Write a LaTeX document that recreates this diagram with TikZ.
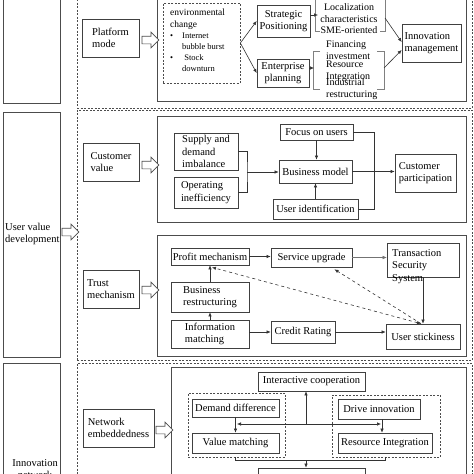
\documentclass[tikz,border=0pt]{standalone}
\usepackage{fontspec}
\setmainfont{Liberation Serif}
\usetikzlibrary{arrows.meta,shapes.arrows}
\tikzset{
 box/.style={draw=black!75, line width=0.7pt, inner sep=0pt, fill=white, font=\fontsize{10.5}{12.5}\selectfont, align=center},
 grp/.style={draw=black!70, line width=0.7pt, dash pattern=on 2pt off 1.5pt, inner sep=0pt},
 frame/.style={draw=black!70, line width=0.8pt, inner sep=0pt},
 txt/.style={inner sep=0pt, font=\fontsize{10.5}{12.5}\selectfont, align=left},
 ln/.style={draw=black!80, line width=0.6pt},
 con/.style={ln, ->},
 brk/.style={draw=black!50, line width=0.6pt},
 harrow/.style={single arrow, draw=black!70, line width=0.7pt, fill=white, minimum height=17pt, minimum width=15pt, single arrow head extend=4pt, inner sep=3.5pt},
 >={Latex[length=4pt,width=3.5pt]}
}
\newcommand\rect[6][]{%
 \pgfmathsetmacro\rw{#4-#2}\pgfmathsetmacro\rh{#5-#3}%
 \pgfmathsetmacro\rx{(#2+#4)/2}\pgfmathsetmacro\ry{(#3+#5)/2}%
 \node[#1,minimum width=\rw pt,minimum height=\rh pt] (#6) at (\rx,\ry)}
\begin{document}
\begin{tikzpicture}[x=1pt,y=-1pt]
\useasboundingbox (0,0) rectangle (474,474);
\clip (0,0) rectangle (474,474);
\fill[white] (0,0) rectangle (474,474);
% left column
\rect[frame]{3}{-20}{60}{103}{L1} {};
\rect[frame]{3}{112}{60}{357}{L2} {};
\rect[frame]{3}{363}{60}{500}{L3} {};
\node[txt, anchor=west] (L2t) at (5,234) {User value\\development};
\node[txt, anchor=north, align=center] (L3t) at (35,459) {Innovation\\network};
% dashed sections
\rect[grp]{77}{-10}{472}{108}{D1} {};
\rect[grp]{77}{110}{472}{360}{D2} {};
\rect[grp]{77}{363}{472}{500}{D3} {};
% big boxes
\rect[frame]{157}{-10}{466}{101}{B1} {};
\rect[frame]{157}{116}{466}{222}{B2} {};
\rect[frame]{157}{235}{466}{356}{B3} {};
\rect[frame]{171}{367}{466}{500}{B4} {};
% hollow arrows
\node[harrow] (h0) at (68.5,232) {};
\node[harrow] (h1) at (148.5,40) {};
\node[harrow] (h2) at (148.5,165) {};
\node[harrow] (h3) at (148.5,290) {};
\node[harrow] (h4) at (162.5,430) {};
% ---------- section 1
\rect[box,align=left]{82}{19}{139}{57}{platform} {Platform\\mode};
\rect[grp]{163}{3}{240}{83}{env} {};
\node[txt, anchor=north west, font=\fontsize{9.5}{12}\selectfont] (envt) at (170,9) {environmental\\change};
\node[txt, anchor=north west, font=\fontsize{8.5}{11}\selectfont] (envb) at (170,33) {\makebox[12pt][l]{\textbullet}Internet\\\makebox[12pt]{}bubble burst\\\makebox[12pt][l]{\textbullet}\ Stock\\\makebox[12pt]{}downturn};
\rect[box]{257}{5}{310}{37}{strat} {Strategic\\Positioning};
\rect[box]{257}{59}{309}{87}{ent} {Enterprise\\planning};
\draw[brk] (320,31) -- (315,31) -- (315,-5);
\draw[brk] (380,31) -- (385,31) -- (385,-5);
\node[txt, align=center, font=\fontsize{10}{11.5}\selectfont] (loc) at (349,19) {Localization\\characteristics\\SME-oriented};
\coordinate (locL) at (318,15);
\coordinate (locR) at (385,18);
\draw[brk] (320,51) -- (313,51) -- (313,89) -- (320,89);
\draw[brk] (377,51) -- (384,51) -- (384,89) -- (377,89);
\node[txt, anchor=west, font=\fontsize{10}{12}\selectfont] (fin1) at (326,50) {Financing\\investment};
\node[txt, anchor=west, font=\fontsize{10}{12}\selectfont] (fin2) at (326,71) {Resource\\Integration};
\node[txt, anchor=west, font=\fontsize{10}{12}\selectfont] (fin3) at (326,89) {Industrial\\restructuring};
\coordinate (finL) at (314,68);
\coordinate (finR) at (384,68);
\rect[box,align=left]{402}{24}{461}{62}{innov} {Innovation\\management};
\draw[con] (env.east) -- (strat.west);
\draw[con] (env.east) -- (ent.west);
\draw[con] (strat.east |- locL) -- (locL);
\draw[con] (ent.east |- finL) -- (finL);
\draw[con] (locR) -- ([yshift=1pt]innov.west);
\draw[con] (finR) -- ([yshift=-7pt]innov.west);
% ---------- section 2
\rect[box,align=left]{83}{143}{139}{181}{cv} {Customer\\value};
\rect[box,align=left]{174}{133}{238}{170}{supply} {Supply and\\demand\\imbalance};
\rect[box,align=left]{174}{177}{238}{208}{oper} {Operating\\inefficiency};
\rect[box]{280}{124}{353}{140}{focus} {Focus on users};
\rect[box]{279}{160}{352}{183}{bm} {Business model};
\rect[box]{273}{199}{358}{219}{uid} {User identification};
\rect[box,align=left]{395}{154}{456}{192}{cp} {Customer\\participation};
\coordinate (sj) at (247,172);
\draw[ln] (supply.east) -| (sj) |- (oper.east);
\draw[con] (sj) -- (bm.west |- sj);
\draw[con] (focus.south) -- (focus.south |- bm.north);
\draw[con] (uid.north) -- (uid.north |- bm.south);
\draw[ln] (focus.east) -- ++(21,0) |- (uid.east);
\draw[con] (bm.east) -- (cp.west |- bm.east);
% ---------- trust
\rect[box,align=left]{83}{270}{139}{308}{trust} {Trust\\mechanism};
\rect[box]{171}{248}{249}{265}{profit} {Profit mechanism};
\rect[box,align=left]{171}{282}{249}{312}{brs} {Business\\restructuring};
\rect[box,align=left]{171}{320}{249}{348}{info} {Information\\matching};
\rect[box]{271}{248}{352}{267}{svc} {Service upgrade};
\rect[box]{387}{243}{459}{277}{tss} {};
\node[txt, anchor=north west] (tsst) at (392,249) {Transaction\\Security\\System};
\rect[box]{271}{321}{335}{343}{cr} {Credit Rating};
\rect[box]{386}{324}{460}{349}{stick} {User stickiness};
\draw[con] (brs.north) -- (profit.south);
\draw[con] (info.north) -- (brs.south);
\draw[con] (profit.east) -- (svc.west |- profit.east);
\draw[con, draw=black!55, line width=0.4pt] (svc.east) -- (tss.west |- svc.east);
\draw[con] (info.east |- cr.west) -- (cr.west);
\draw[con] (cr.east) -- (stick.west |- cr.east);
\draw[con] (tss.south) -- (tss.south |- stick.north);
\draw[ln, dashed, <->] ([xshift=-2pt]stick.north) -- ([xshift=2pt,yshift=-2pt]profit.south);
\draw[ln, dashed, ->] ([xshift=-2pt]stick.north) -- ([xshift=23pt,yshift=-2pt]svc.south);
% ---------- section 3
\rect[box,align=left]{83}{409}{154}{447}{net} {Network\\embeddedness};
\rect[box]{258}{372}{365}{391}{ic} {Interactive cooperation};
\rect[grp]{188}{393}{285}{457}{lg} {};
\rect[box]{192}{399}{279}{417}{dd} {Demand difference};
\rect[box]{192}{433}{279}{453}{vm} {Value matching};
\rect[grp]{332}{395}{440}{457}{rg} {};
\rect[box]{338}{399}{420}{419}{di} {Drive innovation};
\rect[box]{338}{433}{432}{453}{ri} {Resource Integration};
\rect[box]{258}{468}{365}{500}{bot} {};
\draw[con] (dd.south) -- (dd.south |- vm.north);
\draw[con] ([xshift=3pt]di.south) -- ([xshift=3pt]di.south |- ri.north);
\coordinate (hub) at (306,424);
\coordinate (hl) at (237,424);
\coordinate (hr) at (381,424);
\draw[con] (hub) -- (hub |- ic.south);
\draw[con] (hub) -- (hl);
\draw[con] (hub) -- (hr);
\draw[ln] (lg.south -| dd.south) -- ++(0,3) -| (rg.south -| ri.north);
\coordinate (bj) at (306,460);
\draw[con] (bj) -- (bj |- bot.north);
\end{tikzpicture}
\end{document}
